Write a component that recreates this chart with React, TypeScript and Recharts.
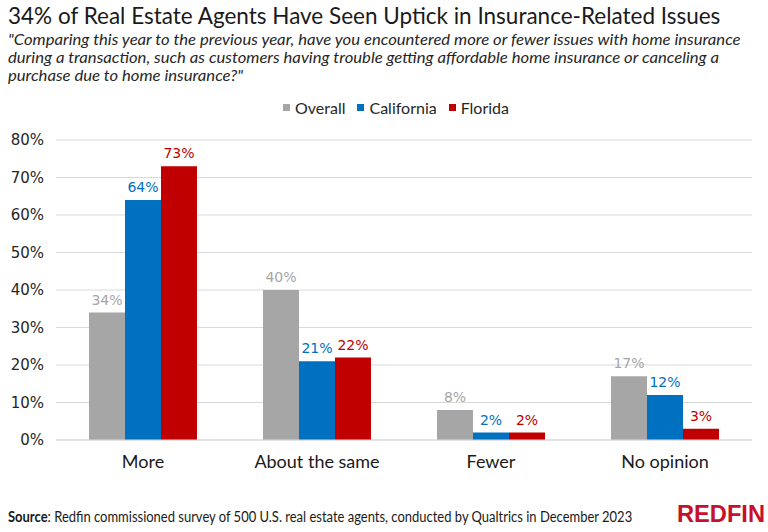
import React from 'react';
import { BarChart, Bar, XAxis, YAxis, CartesianGrid, LabelList } from 'recharts';

const categories = ['More', 'About the same', 'Fewer', 'No opinion'];
const overall = [34, 40, 8, 17];
const california = [64, 21, 2, 12];
const florida = [73, 22, 2, 3];
const yTicks = [0, 10, 20, 30, 40, 50, 60, 70, 80];

const series = [
  { key: 'overall', name: 'Overall', color: '#a6a6a6' },
  { key: 'california', name: 'California', color: '#0070c0' },
  { key: 'florida', name: 'Florida', color: '#c00000' },
];

const subtitleLines = [
  '"Comparing this year to the previous year, have you encountered more or fewer issues with home insurance',
  'during a transaction, such as customers having trouble getting affordable home insurance or canceling a',
  'purchase due to home insurance?"',
];

const chartData = categories.map((cat, i) => ({
  category: cat,
  overall: overall[i],
  california: california[i],
  florida: florida[i],
}));

const pct = (v: number) => `${v}%`;

export default function App() {
  return (
    <div style={{ position: 'absolute', left: 0, top: 0, width: 768, height: 532, background: '#fff', overflow: 'hidden' }}>
      <div style={{ position: 'absolute', left: 8, top: 4, height: 24, lineHeight: '24px', fontFamily: 'Lato', fontSize: 22.5, color: '#1a1a1a', whiteSpace: 'nowrap' }}>
        34% of Real Estate Agents Have Seen Uptick in Insurance-Related Issues
      </div>
      {subtitleLines.map((line, i) => (
        <div
          key={i}
          style={{
            position: 'absolute',
            left: 8,
            top: 30 + i * 18,
            height: 18,
            lineHeight: '18px',
            fontFamily: 'Lato',
            fontStyle: 'italic',
            fontSize: 15,
            color: '#262626',
            whiteSpace: 'nowrap',
            transform: 'scaleX(1.11)',
            transformOrigin: 'left center',
          }}
        >
          {line}
        </div>
      ))}

      {/* legend */}
      <div style={{ position: 'absolute', left: 283, top: 98, display: 'flex', alignItems: 'center', fontFamily: 'Lato', fontSize: 16, color: '#262626' }}>
        {series.map((s) => (
          <div key={s.key} style={{ display: 'flex', alignItems: 'center', marginRight: 12 }}>
            <span style={{ display: 'inline-block', width: 7, height: 7, background: s.color, marginRight: 5 }} />
            <span>{s.name}</span>
          </div>
        ))}
      </div>

      <div style={{ position: 'absolute', left: 0, top: 0 }}>
        <BarChart
          width={768}
          height={532}
          data={chartData}
          margin={{ top: 140, right: 16, bottom: 62, left: 0 }}
          barCategoryGap={33}
          barGap={0}
        >
          <CartesianGrid vertical={false} stroke="#d9d9d9" />
          <XAxis
            dataKey="category"
            axisLine={{ stroke: '#d9d9d9' }}
            tickLine={false}
            tickSize={0}
            tickMargin={15}
            height={30}
            interval={0}
            tick={{ fontFamily: 'Lato', fontSize: 18, fill: '#1a1a1a' }}
          />
          <YAxis
            width={56}
            domain={[0, 80]}
            ticks={yTicks}
            tickFormatter={pct}
            axisLine={false}
            tickLine={false}
            tickSize={0}
            tickMargin={12}
            tick={{ fontFamily: 'DejaVu Sans', fontSize: 15, fill: '#262626' }}
          />
          {series.map((s) => (
            <Bar key={s.key} dataKey={s.key} name={s.name} fill={s.color} isAnimationActive={false}>
              <LabelList
                dataKey={s.key}
                position="top"
                offset={8}
                formatter={pct}
                style={{ fontFamily: 'DejaVu Sans', fontSize: 14, fill: s.color }}
              />
            </Bar>
          ))}
        </BarChart>
      </div>

      <div
        style={{
          position: 'absolute',
          left: 8,
          top: 508,
          fontFamily: 'Lato',
          fontSize: 14.5,
          color: '#1a1a1a',
          whiteSpace: 'nowrap',
          transform: 'scaleX(0.895)',
          transformOrigin: 'left center',
        }}
      >
        <b>Source</b>: Redfin commissioned survey of 500 U.S. real estate agents, conducted by Qualtrics in December 2023
      </div>
      <svg style={{ position: 'absolute', left: 672, top: 500 }} width={96} height={30}>
        <text
          x={5}
          y={22}
          textLength={88}
          lengthAdjust="spacingAndGlyphs"
          fontFamily="Liberation Sans Narrow, Liberation Sans"
          fontWeight="bold"
          fontSize={24}
          fill="#c8102e"
        >
          REDFIN
        </text>
      </svg>
    </div>
  );
}
